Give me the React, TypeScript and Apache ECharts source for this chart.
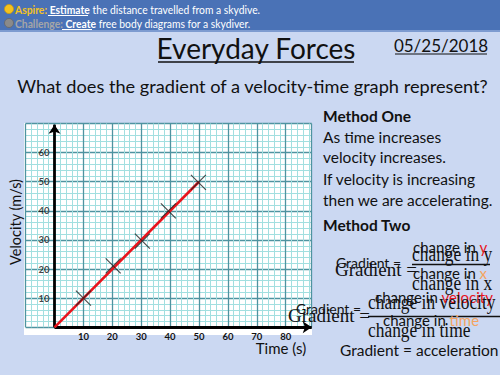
import React, { useEffect, useRef } from "react";
import * as echarts from "echarts";

// ---- data ----
const times = [10, 20.3, 30.4, 39.4, 49.8]; // plotted crosses (s)
const velocities = [10, 21.1, 29.6, 40, 49.8]; // plotted crosses (m/s)
const lineTimes = [0, 50]; // best-fit line
const lineVelocities = [0, 50];
const xTickLabels = [10, 20, 30, 40, 50, 60, 70, 80];
const yTickLabels = [10, 20, 30, 40, 50, 60];

const SANS = "Lato, 'Noto Sans', sans-serif";
const SERIF = "'Liberation Serif', 'DejaVu Serif', serif";
const BG = "#cbd8f2";

export default function App() {
  const ref = useRef<HTMLDivElement>(null);
  useEffect(() => {
    document.body.style.margin = "0";
    const chart = echarts.init(ref.current!, null, { renderer: "svg" });
    const crossPath = "path://M0,0L10,10M10,0L0,10";
    const txt = (
      x: number,
      y: number,
      text: string,
      size: number,
      opts: any = {}
    ) => ({
      type: "text",
      x,
      y,
      z: 10,
      scaleX: opts.sx || 1,
      style: {
        text,
        fill: opts.fill || "#111",
        font: `${opts.bold ? "bold " : ""}${size}px ${opts.family || SANS}`,
        textAlign: opts.align || "left",
        textVerticalAlign: "middle",
        rich: opts.rich,
      },
    });
    const ln = (x1: number, y1: number, x2: number, y2: number, w = 1, c = "#111") => ({
      type: "line",
      z: 10,
      shape: { x1, y1, x2, y2 },
      style: { stroke: c, lineWidth: w },
    });
    const richSans = (size: number) => ({
      r: { fill: "#e8141c", font: `${size}px ${SANS}` },
      o: { fill: "#f4a460", font: `${size}px ${SANS}` },
    });
    const option: any = {
      animation: false,
      grid: { left: 25.6, right: 188.3, top: 123.5, bottom: 47.7, containLabel: false },
      xAxis: {
        type: "value",
        min: -10,
        max: 89,
        interval: 10,
        axisLine: { show: false },
        axisTick: { show: false },
        splitLine: { show: true, lineStyle: { color: "#4f93a0", width: 1.3 } },
        minorTick: { show: false, splitNumber: 5 },
        minorSplitLine: { show: true, lineStyle: { color: "#a2dfe0", width: 1 } },
        axisLabel: {
          margin: 4,
          color: "#111",
          fontFamily: SANS,
          fontWeight: "bold",
          fontSize: 9.5,
          formatter: (v: number) => (xTickLabels.includes(v) ? String(v) : ""),
        },
      },
      yAxis: {
        type: "value",
        min: 0,
        max: 70,
        interval: 10,
        axisLine: { show: false },
        axisTick: { show: false },
        splitLine: { show: true, lineStyle: { color: "#4f93a0", width: 1.3 } },
        minorTick: { show: false, splitNumber: 5 },
        minorSplitLine: { show: true, lineStyle: { color: "#a2dfe0", width: 1 } },
        axisLabel: { show: false },
      },
      series: [
        {
          type: "line",
          data: lineTimes.map((t, i) => [t, lineVelocities[i]]),
          symbol: "none",
          lineStyle: { color: "#e8141c", width: 2.6 },
          z: 5,
          markLine: {
            silent: true,
            symbol: ["none", "arrow"],
            symbolSize: [9, 9],
            label: { show: false },
            lineStyle: { color: "#000", width: 2.8, type: "solid" },
            data: [
              [{ coord: [0, 0] }, { coord: [89, 0] }],
              [{ coord: [0, 0] }, { coord: [0, 69.6] }],
            ],
          },
        },
        {
          type: "scatter",
          data: times.map((t, i) => [t, velocities[i]]),
          symbol: crossPath,
          symbolSize: 15,
          itemStyle: { color: "none", borderColor: "#222", borderWidth: 1.2 },
          z: 6,
        },
        {
          // y tick labels placed on the y-axis scale
          type: "scatter",
          data: yTickLabels.map((v) => [0, v]),
          symbolSize: 0,
          label: {
            show: true,
            position: "left",
            distance: 5,
            formatter: (p: any) => String(p.value[1]),
            color: "#111",
            fontFamily: SANS,
            fontWeight: "bold",
            fontSize: 9.5,
          },
          z: 7,
        },
      ],
      graphic: [
        // paper
        { type: "rect", z: -5, shape: { x: 24, y: 123, width: 288, height: 212 }, style: { fill: "#fff" } },
        // header
        { type: "rect", z: 1, shape: { x: 0, y: 0, width: 500, height: 30 }, style: { fill: "#4a72b6" } },
        { type: "rect", z: 1, shape: { x: 0, y: 30, width: 500, height: 2 }, style: { fill: "#7d9bd0" } },
        { type: "circle", z: 2, shape: { cx: 9, cy: 9, r: 4.5 }, style: { fill: "#f4c21f", stroke: "#c99a10", lineWidth: 0.8 } },
        { type: "circle", z: 2, shape: { cx: 9, cy: 23, r: 4.5 }, style: { fill: "#8a8a8a", stroke: "#666", lineWidth: 0.8 } },
        txt(15, 9.5, "{a|Aspire:} {b|Estimate} the distance travelled from a skydive.", 11.6, {
          fill: "#fff",
          sx: 0.89,
          rich: {
            a: { fill: "#f4c21f", font: `bold 11.6px ${SANS}` },
            b: { fill: "#fff", font: `bold 11.6px ${SANS}` },
          },
        }),
        ln(48, 15.5, 88, 15.5, 1, "#fff"),
        txt(15, 23.5, "{a|Challenge:} {b|Create} free body diagrams for a skydiver.", 11.6, {
          fill: "#fff",
          sx: 0.89,
          rich: {
            a: { fill: "#a6a6a6", font: `bold 11.6px ${SANS}` },
            b: { fill: "#fff", font: `bold 11.6px ${SANS}` },
          },
        }),
        ln(62, 29.5, 92, 29.5, 1, "#fff"),
        // title
        txt(256, 48, "Everyday Forces", 28, { align: "center" }),
        ln(158, 62, 354, 62, 1.3),
        txt(441, 45, "05/25/2018", 17, { align: "center" }),
        ln(395, 54, 487, 54, 1.1),
        txt(252.5, 86, "What does the gradient of a velocity-time graph represent?", 18.2, { align: "center" }),
        // axis titles
        {
          type: "text",
          x: 15,
          y: 222,
          rotation: Math.PI / 2,
          z: 10,
          style: { text: "Velocity (m/s)", fill: "#111", font: `14.5px ${SANS}`, textAlign: "center", textVerticalAlign: "middle" },
        },
        txt(281, 348, "Time (s)", 15, { align: "center" }),
        // method one
        txt(323, 115.5, "Method One", 15.5, { bold: true }),
        txt(323, 137, "As time increases", 15.5),
        txt(323, 157, "velocity increases.", 15.5),
        txt(323, 178.5, "If velocity is increasing", 15.5),
        txt(323, 199.5, "then we are accelerating.", 15.5),
        txt(323, 225, "Method Two", 15.5, { bold: true }),
        // formula 1 (overlapping renderings)
        txt(335, 269, "Gradient =", 19, { family: SERIF }),
        txt(336, 262, "Gradient =", 14),
        ln(412, 264.5, 490, 264.5, 1.4),
        txt(413, 247, "change in {r|y}", 15, { rich: richSans(15) }),
        txt(412, 254, "change in y", 20, { family: SERIF, sx: 0.87 }),
        txt(413, 273, "change in {o|x}", 15, { rich: richSans(15) }),
        txt(412, 283, "change in x", 20, { family: SERIF, sx: 0.87 }),
        // formula 2
        txt(288, 315, "Gradient =", 19, { family: SERIF }),
        txt(296, 308, "Gradient =", 14),
        ln(368, 316.5, 500, 316.5, 1.4),
        txt(375, 297, "change in {r|velocity}", 15, { rich: richSans(15) }),
        txt(368, 302, "change in velocity", 20, { family: SERIF, sx: 0.87 }),
        txt(383, 320, "change in {o|time}", 15, { rich: richSans(15) }),
        txt(368, 330, "change in time", 20, { family: SERIF, sx: 0.87 }),
        txt(340, 350, "Gradient = acceleration", 15.5),
      ],
    };
    chart.setOption(option);
    return () => chart.dispose();
  }, []);
  return (
    <div
      ref={ref}
      style={{ position: "fixed", left: 0, top: 0, width: 500, height: 375, background: BG }}
    />
  );
}
